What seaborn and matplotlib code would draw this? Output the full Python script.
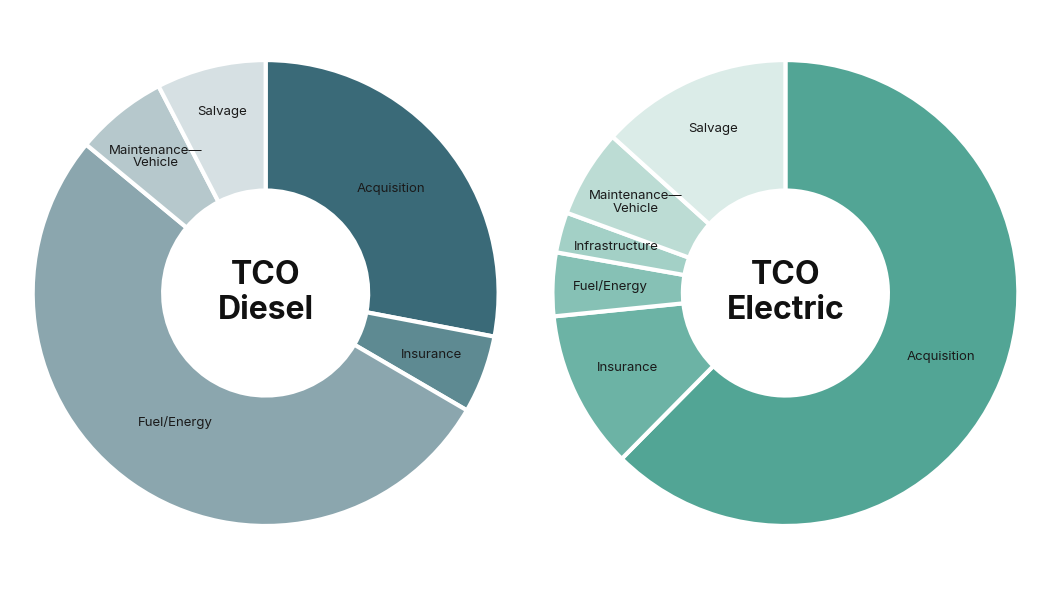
import numpy as np
import matplotlib
matplotlib.use("Agg")
import matplotlib.pyplot as plt
import seaborn as sns

diesel_labels = ["Acquisition", "Insurance", "Fuel/Energy", "Maintenance—\nVehicle", "Salvage"]
diesel_values = [28.0, 5.4, 52.6, 6.4, 7.6]
diesel_colors = ["#3a6a78", "#5e8a92", "#8ba6ae", "#b6c8cc", "#d6e0e3"]

electric_labels = ["Acquisition", "Insurance", "Fuel/Energy", "Infrastructure",
                   "Maintenance—\nVehicle", "Salvage"]
electric_values = [62.4, 11.0, 4.4, 2.8, 6.1, 13.3]
electric_colors = ["#52a595", "#6cb3a5", "#86c1b5", "#a3d0c6", "#bcdcd4", "#dbece8"]

sns.set_theme(style="white")
plt.rcParams["font.family"] = ["Inter", "DejaVu Sans"]

fig = plt.figure(figsize=(10.5, 5.89), dpi=100)


def donut(rect, values, labels, colors, title, label_r):
    ax = fig.add_axes(rect)
    wedges, _ = ax.pie(values, colors=colors, startangle=90, counterclock=False,
                       radius=1.0, wedgeprops=dict(width=0.56, edgecolor="white", linewidth=3))
    for w, lab, r in zip(wedges, labels, label_r):
        ang = np.deg2rad((w.theta1 + w.theta2) / 2)
        ax.text(r * np.cos(ang), r * np.sin(ang), lab, ha="center", va="center",
                fontsize=9.5, color="#1a1a1a", linespacing=1.1)
    ax.text(0, 0, title, ha="center", va="center", fontsize=23, fontweight="bold",
            color="#111111", linespacing=1.15)
    ax.set_xlim(-1, 1)
    ax.set_ylim(-1, 1)
    ax.set_aspect("equal")
    ax.axis("off")


donut([0.031, 0.107, 0.444, 0.791], diesel_values, diesel_labels, diesel_colors,
      "TCO\nDiesel", [0.7, 0.76, 0.68, 0.75, 0.8])
donut([0.526, 0.107, 0.444, 0.791], electric_values, electric_labels, electric_colors,
      "TCO\nElectric", [0.72, 0.75, 0.75, 0.75, 0.75, 0.77])

fig.savefig("out.png", dpi=100)
